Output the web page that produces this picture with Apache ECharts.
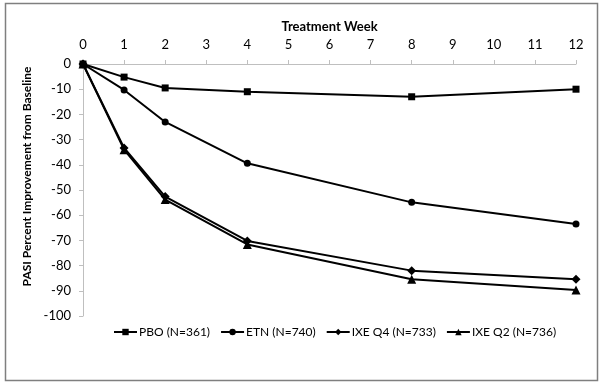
<!DOCTYPE html>
<html><head><meta charset="utf-8">
<script src="https://cdn.jsdelivr.net/npm/echarts@6/dist/echarts.min.js"></script>
<style>html,body{margin:0;padding:0;background:#fff}#c{width:603px;height:387px}</style>
</head><body><div id="c"></div>
<script>
const weeks = [0, 1, 2, 4, 8, 12];
const pbo = [0, -5.2, -9.5, -11, -13, -10];
const etn = [0, -10.3, -23, -39.4, -54.9, -63.5];
const ixeQ4 = [0, -33.3, -52.6, -70.2, -82, -85.4];
const ixeQ2 = [0, -34, -53.8, -71.6, -85.4, -89.7];
const seriesNames = ['PBO (N=361)', 'ETN (N=740)', 'IXE Q4 (N=733)', 'IXE Q2 (N=736)'];
const xTicks = [0,1,2,3,4,5,6,7,8,9,10,11,12];
const yTicks = [0,-10,-20,-30,-40,-50,-60,-70,-80,-90,-100];

const FONT = 'Lato, "Open Sans", sans-serif';
const chart = echarts.init(document.getElementById('c'), null, {renderer: 'canvas'});
function mk(name, vals, symbol, size) {
  return {
    name: name, type: 'line', data: weeks.map((w, i) => [w, vals[i]]),
    symbol: symbol, symbolSize: size, showAllSymbol: true,
    lineStyle: {color: '#000', width: 2}, itemStyle: {color: '#000'},
    animation: false
  };
}
chart.setOption({
  animation: false,
  textStyle: {fontFamily: FONT},
  graphic: [{type: 'rect', shape: {x: 5.5, y: 3.5, width: 592, height: 377},
    style: {fill: 'none', stroke: '#7f7f7f', lineWidth: 1.5}}],
  grid: {left: 83, right: 27, top: 64, bottom: 71},
  xAxis: {
    type: 'value', position: 'top', min: 0, max: 12, interval: 1,
    name: 'Treatment Week', nameLocation: 'middle', nameGap: 31,
    nameTextStyle: {fontFamily: FONT, fontWeight: 'bold', fontSize: 13, color: '#000'},
    axisLine: {show: true, onZero: false, lineStyle: {color: '#bfbfbf', width: 1}},
    axisTick: {show: true, length: 4, lineStyle: {color: '#bfbfbf'}},
    axisLabel: {fontFamily: FONT, fontSize: 13, color: '#000', margin: 13,
      formatter: v => xTicks.includes(v) ? String(v) : ''},
    splitLine: {show: false}
  },
  yAxis: {
    type: 'value', min: -100, max: 0, interval: 10,
    name: 'PASI Percent Improvement from Baseline', nameLocation: 'middle', nameGap: 39,
    nameTextStyle: {fontFamily: FONT, fontWeight: 'bold', fontSize: 12, color: '#000', padding: [0,0,0,27]},
    axisLine: {show: true, lineStyle: {color: '#bfbfbf', width: 1}},
    axisTick: {show: true, length: 4, lineStyle: {color: '#bfbfbf'}},
    axisLabel: {fontFamily: FONT, fontSize: 13, color: '#000', margin: 12,
      formatter: v => yTicks.includes(v) ? String(v) : ''},
    splitLine: {show: false}
  },
  legend: {
    bottom: 44, left: 108, itemGap: 10, itemWidth: 23, itemHeight: 8,
    textStyle: {fontFamily: FONT, fontSize: 12, color: '#000', padding: [0,0,0,-3]},
    data: seriesNames
  },
  series: [
    mk(seriesNames[0], pbo, 'rect', 7),
    mk(seriesNames[1], etn, 'circle', 7),
    mk(seriesNames[2], ixeQ4, 'diamond', 9),
    mk(seriesNames[3], ixeQ2, 'triangle', 9)
  ]
});
</script></body></html>
